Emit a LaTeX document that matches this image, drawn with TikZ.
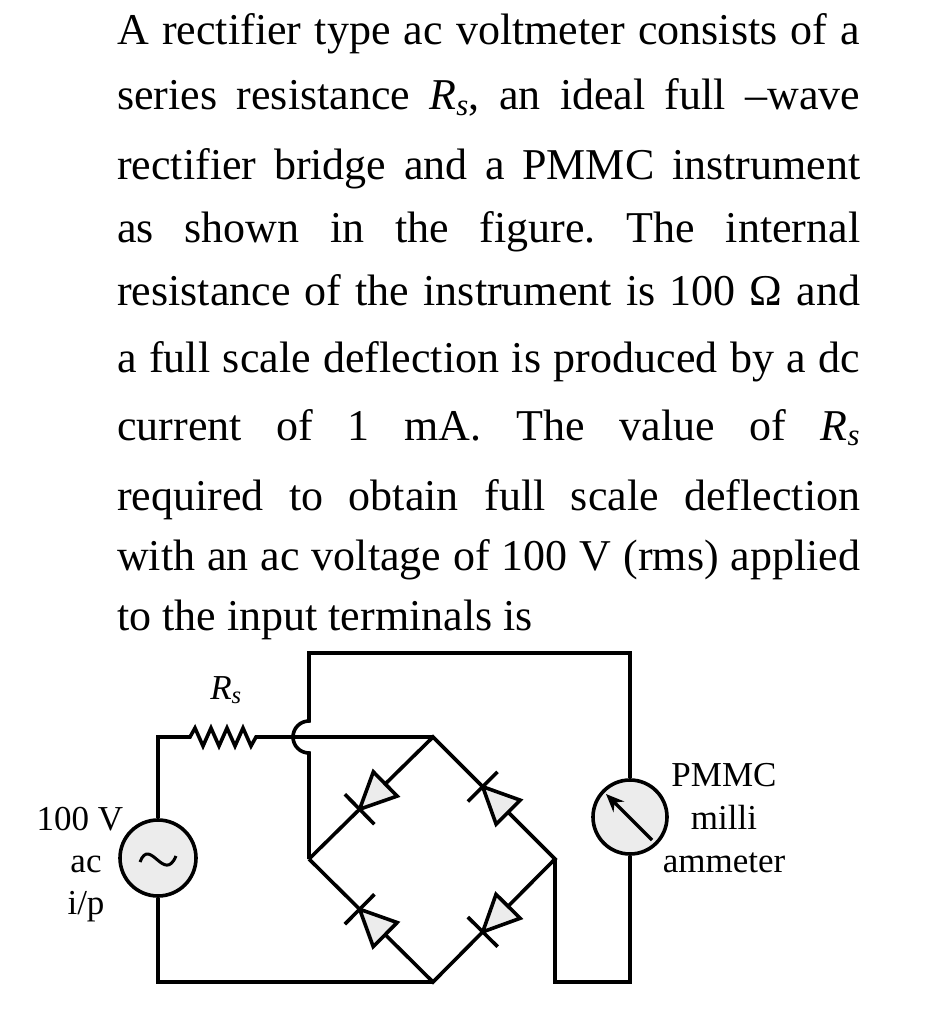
\documentclass[tikz,border=0pt]{standalone}
\usepackage{fontspec}
\setmainfont{Liberation Serif}
\frenchspacing
\usetikzlibrary{calc,arrows.meta}
\newcommand\mydiode[2]{%
 \coordinate (dm) at ($(#1)!0.5!(#2)$);
 \coordinate (db) at ($(dm)!20pt!(#1)$);
 \coordinate (dk) at ($(dm)!16pt!(#2)$);
 \filldraw[wire,fill=gray!15] ($(db)!17pt!90:(#2)$) -- ($(db)!17pt!-90:(#2)$) -- (dk) -- cycle;
 \draw[wire] ($(dk)!21pt!90:(#2)$) -- ($(dk)!21pt!-90:(#2)$);
}
\newcommand\jline[1]{\makebox[743pt][s]{#1}}
\begin{document}
\begin{tikzpicture}[x=1pt,y=-1pt,
  wire/.style={line width=3.6pt,line join=miter},
  txtline/.style={anchor=base west,inner sep=0pt,font=\fontsize{44}{52}\selectfont},
  lbl/.style={inner sep=0pt,font=\fontsize{35}{40}\selectfont}]
\useasboundingbox (0,0) rectangle (938,1024);
\fill[white] (0,0) rectangle (938,1024);
\node[txtline] (l1) at (117,45) {\jline{A rectifier type ac voltmeter consists of a}};
\node[txtline] (l2) at (117,110) {\jline{series resistance \textit{R}\textsubscript{\textit{s}}, an ideal full –wave}};
\node[txtline] (l3) at (117,180) {\jline{rectifier bridge and a PMMC instrument}};
\node[txtline] (l4) at (117,243) {\jline{as shown in the figure. The internal}};
\node[txtline] (l5) at (117,305) {\jline{resistance of the instrument is 100 Ω and}};
\node[txtline] (l6) at (117,372) {\jline{a full scale deflection is produced by a dc}};
\node[txtline] (l7) at (117,440) {\jline{current of 1 mA. The value of \textit{R}\textsubscript{\textit{s}}}};
\node[txtline] (l8) at (117,510) {\jline{required to obtain full scale deflection}};
\node[txtline] (l9) at (117,570) {\jline{with an ac voltage of 100 V (rms) applied}};
\node[txtline] (l10) at (117,630) {to the input terminals is};
% coordinates
\coordinate (T) at (433,737);
\coordinate (L) at (309,859);
\coordinate (R) at (555,859);
\coordinate (B) at (433,982);
\coordinate (tl) at (158,737);
\coordinate (bl) at (158,982);
\coordinate (rs1) at (190,737);
\coordinate (hop1) at (309,721);
\coordinate (hop2) at (309,753);
\coordinate (top1) at (309,653);
\coordinate (top2) at (630,653);
\coordinate (br) at (555,982);
\coordinate (br2) at (630,982);
\node[circle,draw,wire,fill=gray!15,minimum size=76pt,inner sep=0pt] (src) at (158,858) {};
\node[circle,draw,wire,fill=gray!15,minimum size=74pt,inner sep=0pt] (mtr) at (630,817) {};
% wires
\draw[wire] (src.north) -- (tl) -- (rs1)
  -- ++(5,-9) -- ++(8,18) -- ++(8,-18) -- ++(8,18) -- ++(8,-18) -- ++(8,18) -- ++(8,-18) -- ++(8,18) -- ++(5,-9) -- (T);
\draw[wire] (src.south) -- (bl) -- (B);
\draw[wire] (L) -- (hop2) arc[start angle=90,end angle=270,radius=16] -- (top1) -- (top2) -- (mtr.north);
\draw[wire] (mtr.south) -- (br2) -- (br) -- (R);
\draw[wire] (L) -- (T) -- (R) -- (B) -- (L);
\mydiode{T}{L}
\mydiode{R}{T}
\mydiode{B}{L}
\mydiode{R}{B}
\draw[line width=3pt] (140,862) .. controls (150,836) and (164,884) .. (176,856);
\draw[line width=3.4pt,-{Stealth[length=18pt,width=15pt]}] (652,840) -- (606,794);
% labels
\node[lbl] (rsl) at (226,690) {\textit{R}\textsubscript{\textit{s}}};
\node[lbl,anchor=base] (v1) at (80,830) {100 V};
\node[lbl,anchor=base] (v2) at (86,872) {ac};
\node[lbl,anchor=base] (v3) at (86,914) {i/p};
\node[lbl,anchor=base] (m1) at (724,786) {PMMC};
\node[lbl,anchor=base] (m2) at (724,829) {milli};
\node[lbl,anchor=base] (m3) at (724,872) {ammeter};
\end{tikzpicture}
\end{document}
